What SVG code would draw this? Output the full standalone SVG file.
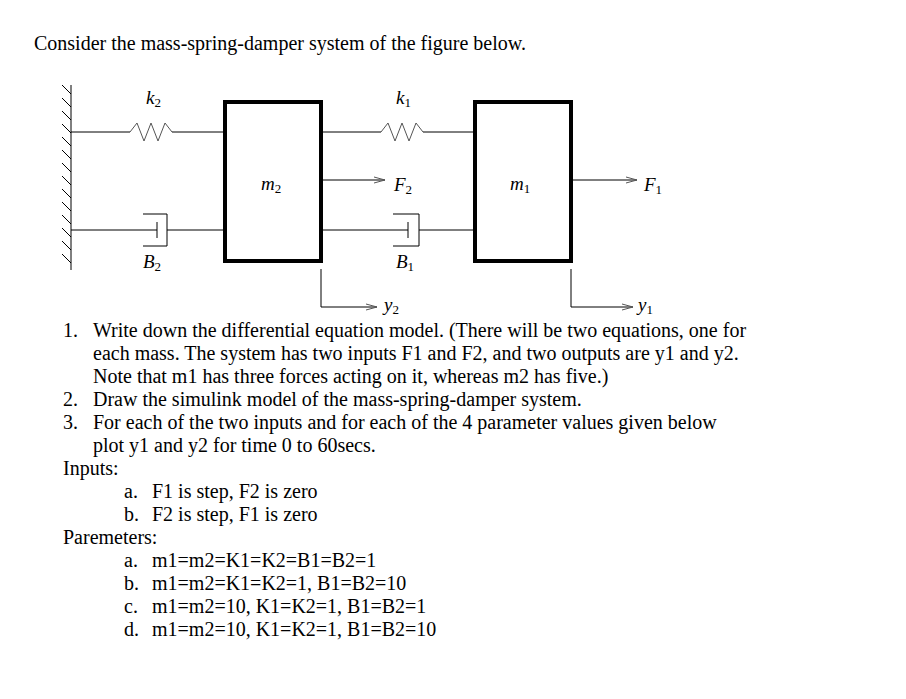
<svg xmlns="http://www.w3.org/2000/svg" width="906" height="699" viewBox="0 0 906 699">
<defs>
<style>
text{font-family:"Liberation Serif","Times New Roman",serif;fill:#000}
.t{font-size:20px}
.m{font-size:19px;font-style:italic}
.s{font-size:13px}
.ln{stroke:#000;stroke-width:1;fill:none}
.sp{stroke:#555;stroke-width:1;fill:none}
.box{fill:#fff;stroke:#000;stroke-width:4}
</style>
<marker id="ar" markerWidth="12" markerHeight="8" refX="11" refY="4" orient="auto" markerUnits="userSpaceOnUse"><path d="M0,1 L11,4 L0,7" fill="none" stroke="#555" stroke-width="1"/></marker>
</defs>
<rect width="906" height="699" fill="#fff"/>
<text class="t" x="34" y="50">Consider the mass-spring-damper system of  the figure below.</text>
<g id="wall">
<line class="ln" x1="71" y1="85" x2="71" y2="270"/>
<path class="ln" d="M62,85 l9,9 M62,98 l9,9 M62,111 l9,9 M62,124 l9,9 M62,137 l9,9 M62,150 l9,9 M62,163 l9,9 M62,176 l9,9 M62,189 l9,9 M62,202 l9,9 M62,215 l9,9 M62,228 l9,9 M62,241 l9,9 M62,254 l9,9"/>
</g>
<g id="connectors">
<path class="ln" d="M71,132 H130"/><path class="sp" d="M130,132 l7,-9 l7,18 l7,-18 l7,18 l7,-18 l7,9"/><path class="ln" d="M172,132 H223"/>
<path class="ln" d="M71,230 H157 M157,222 V238 M143,214 H167 V246 H143 M167,230 H223"/>
<path class="ln" d="M323,132 H381"/><path class="sp" d="M381,132 l7,-9 l7,18 l7,-18 l7,18 l7,-18 l7,9"/><path class="ln" d="M423,132 H473"/>
<path class="ln" d="M323,230 H408 M408,222 V238 M393,214 H419 V246 H393 M419,230 H473"/>
<path class="ln" d="M323,180 H385" marker-end="url(#ar)"/>
<path class="ln" d="M573,180 H637" marker-end="url(#ar)"/>
<path class="ln" d="M321,269 V307 H377" marker-end="url(#ar)"/>
<path class="ln" d="M571,269 V307 H633" marker-end="url(#ar)"/>
</g>
<g id="m2"><rect class="box" x="225" y="102" width="96" height="159"/><text class="m" x="261" y="190">m<tspan class="s" font-style="normal" dy="3">2</tspan></text></g>
<g id="m1"><rect class="box" x="475" y="102" width="96" height="159"/><text class="m" x="510" y="190">m<tspan class="s" font-style="normal" dy="3">1</tspan></text></g>
<g id="labels">
<text class="m" x="146" y="104">k<tspan class="s" font-style="normal" dy="3">2</tspan></text>
<text class="m" x="396" y="104">k<tspan class="s" font-style="normal" dy="3">1</tspan></text>
<text class="m" x="143" y="268">B<tspan class="s" font-style="normal" dy="3">2</tspan></text>
<text class="m" x="396" y="268">B<tspan class="s" font-style="normal" dy="3">1</tspan></text>
<text class="m" x="394" y="191">F<tspan class="s" font-style="normal" dy="3">2</tspan></text>
<text class="m" x="644" y="191">F<tspan class="s" font-style="normal" dy="3">1</tspan></text>
<text class="m" x="384" y="311">y<tspan class="s" font-style="normal" dy="3">2</tspan></text>
<text class="m" x="638" y="311">y<tspan class="s" font-style="normal" dy="3">1</tspan></text>
</g>
<g class="t">
<text x="63" y="337">1.</text><text x="93" y="337">Write down the differential equation model. (There will be two equations, one for</text>
<text x="93" y="360">each mass. The system has two inputs F1 and F2, and two outputs are y1 and y2.</text>
<text x="93" y="383">Note that m1 has three forces acting on it, whereas m2 has five.)</text>
<text x="63" y="406">2.</text><text x="93" y="406">Draw the simulink model of the mass-spring-damper system.</text>
<text x="63" y="429">3.</text><text x="93" y="429">For each of the two inputs and for each of the 4 parameter values given below</text>
<text x="93" y="452">plot y1 and y2 for time 0 to 60secs.</text>
<text x="63" y="475">Inputs:</text>
<text x="124" y="498">a.</text><text x="152" y="498">F1 is step, F2 is zero</text>
<text x="124" y="521">b.</text><text x="152" y="521">F2 is step, F1 is zero</text>
<text x="63" y="544">Paremeters:</text>
<text x="124" y="567">a.</text><text x="152" y="567">m1=m2=K1=K2=B1=B2=1</text>
<text x="124" y="590">b.</text><text x="152" y="590">m1=m2=K1=K2=1, B1=B2=10</text>
<text x="124" y="613">c.</text><text x="152" y="613">m1=m2=10, K1=K2=1, B1=B2=1</text>
<text x="124" y="636">d.</text><text x="152" y="636">m1=m2=10, K1=K2=1, B1=B2=10</text>
</g>
</svg>
